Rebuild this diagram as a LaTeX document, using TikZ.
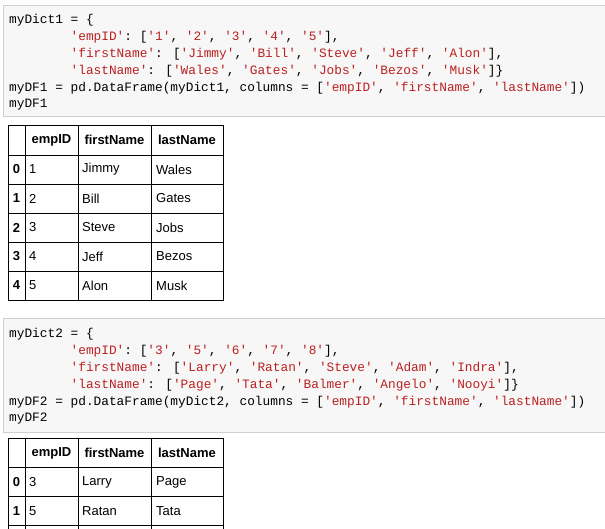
\documentclass[tikz,border=0pt]{standalone}
\usepackage{fontspec}
\setmainfont{Liberation Sans}
\newfontfamily\codefont{Liberation Mono}[Ligatures=ResetAll]
\definecolor{codebg}{HTML}{F7F7F7}
\definecolor{codeline}{HTML}{CFCFCF}
\definecolor{strred}{HTML}{BA2121}
\newcommand{\qq}{\char"27\relax}
\newcommand{\st}[1]{\textcolor{strred}{\qq#1\qq}}
\tikzset{
  codebox/.style={fill=codebg,draw=codeline,line width=0.8pt},
  codetxt/.style={anchor=west,inner sep=0pt,font=\codefont\fontsize{12.8}{14}\selectfont},
  cell/.style={anchor=west,inner sep=0pt,font=\fontsize{13}{15}\selectfont},
  hcell/.style={anchor=center,inner sep=0pt,font=\bfseries\fontsize{13}{15}\selectfont},
  grid/.style={line width=0.8pt}
}
\begin{document}
\begin{tikzpicture}[x=1pt,y=-1pt]
\useasboundingbox (0,0) rectangle (605,529);
% code box 1
\draw[codebox] (3,5) rectangle (606,116);
\node[codetxt] (l11) at (9,20) {myDict1 = \{};
\node[codetxt] (l12) at (9,37) {\phantom{xxxxxxxx}\st{empID}: [\st{1}, \st{2}, \st{3}, \st{4}, \st{5}],};
\node[codetxt] (l13) at (9,54) {\phantom{xxxxxxxx}\st{firstName}: [\st{Jimmy}, \st{Bill}, \st{Steve}, \st{Jeff}, \st{Alon}],};
\node[codetxt] (l14) at (9,71) {\phantom{xxxxxxxx}\st{lastName}: [\st{Wales}, \st{Gates}, \st{Jobs}, \st{Bezos}, \st{Musk}]\}};
\node[codetxt] (l15) at (9,88) {myDF1 = pd.DataFrame(myDict1, columns = [\st{empID}, \st{firstName}, \st{lastName}])};
\node[codetxt] (l16) at (9,105) {myDF1};
% table 1
\draw[grid] (8,125) rectangle (223,300);
\foreach \x in {25,78,151} \draw[grid] (\x,125) -- (\x,300);
\foreach \y in {155,184,213,242,271} \draw[grid] (8,\y) -- (223,\y);
\node[hcell] (h1a) at (51.5,140) {empID};
\node[hcell] (h1b) at (114.5,140) {firstName};
\node[hcell] (h1c) at (187,140) {lastName};
\foreach \i/\e/\f/\l [count=\k from 0] in {0/1/Jimmy/Wales,1/2/Bill/Gates,2/3/Steve/Jobs,3/4/Jeff/Bezos,4/5/Alon/Musk}{
  \node[hcell] (ia\k) at (16.5,{169.5+29*\k}) {\i};
  \node[cell] (ea\k) at (29,{169.5+29*\k}) {\e};
  \node[cell] (fa\k) at (82,{169.5+29*\k}) {\f};
  \node[cell] (la\k) at (156,{169.5+29*\k}) {\l};
}
% code box 2
\draw[codebox] (3,318) rectangle (606,432);
\node[codetxt] (l21) at (9,334) {myDict2 = \{};
\node[codetxt] (l22) at (9,351) {\phantom{xxxxxxxx}\st{empID}: [\st{3}, \st{5}, \st{6}, \st{7}, \st{8}],};
\node[codetxt] (l23) at (9,368) {\phantom{xxxxxxxx}\st{firstName}: [\st{Larry}, \st{Ratan}, \st{Steve}, \st{Adam}, \st{Indra}],};
\node[codetxt] (l24) at (9,385) {\phantom{xxxxxxxx}\st{lastName}: [\st{Page}, \st{Tata}, \st{Balmer}, \st{Angelo}, \st{Nooyi}]\}};
\node[codetxt] (l25) at (9,402) {myDF2 = pd.DataFrame(myDict2, columns = [\st{empID}, \st{firstName}, \st{lastName}])};
\node[codetxt] (l26) at (9,419) {myDF2};
% table 2
\draw[grid] (8,540) -- (8,438) -- (223,438) -- (223,540);
\foreach \x in {25,78,151} \draw[grid] (\x,438) -- (\x,540);
\foreach \y in {467,496,525} \draw[grid] (8,\y) -- (223,\y);
\node[hcell] (h2a) at (51.5,453) {empID};
\node[hcell] (h2b) at (114.5,453) {firstName};
\node[hcell] (h2c) at (187,453) {lastName};
\foreach \i/\e/\f/\l [count=\k from 0] in {0/3/Larry/Page,1/5/Ratan/Tata}{
  \node[hcell] (ib\k) at (16.5,{482+29*\k}) {\i};
  \node[cell] (eb\k) at (29,{482+29*\k}) {\e};
  \node[cell] (fb\k) at (82,{482+29*\k}) {\f};
  \node[cell] (lb\k) at (156,{482+29*\k}) {\l};
}
\end{tikzpicture}
\end{document}
